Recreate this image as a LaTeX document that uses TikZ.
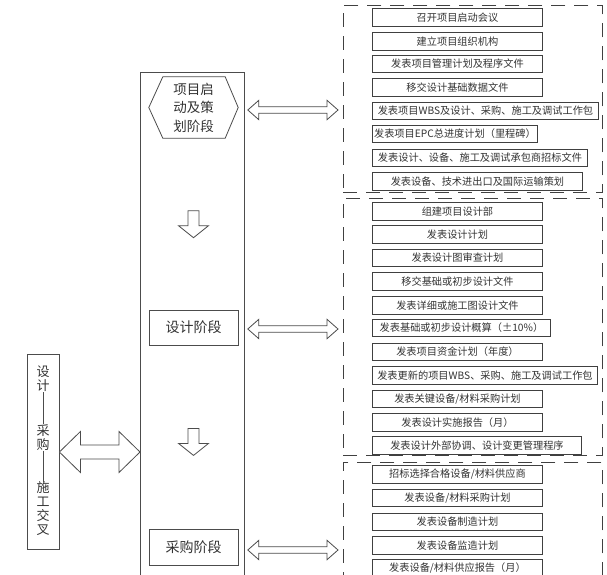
\documentclass[tikz,border=0pt]{standalone}
\usepackage{fontspec}
\newfontfamily\cjk{Noto Sans CJK SC}
\usetikzlibrary{calc}
\newcommand\hdbl[5]{\draw[hollow] let \p1=(#1), \p2=(#2) in
  (\x1,\y1) -- (\x1+#5,\y1+#3) -- (\x1+#5,\y1+#4) -- (\x2-#5,\y1+#4) -- (\x2-#5,\y1+#3) --
  (\x2,\y1) -- (\x2-#5,\y1-#3) -- (\x2-#5,\y1-#4) -- (\x1+#5,\y1-#4) -- (\x1+#5,\y1-#3) -- cycle;}
\newcommand\hdown[1]{\draw[hollow] let \p1=(#1) in
  (\x1-5.5pt,\y1) -- (\x1+5.5pt,\y1) -- (\x1+5.5pt,\y1-15pt) -- (\x1+15pt,\y1-15pt) --
  (\x1,\y1-27pt) -- (\x1-15pt,\y1-15pt) -- (\x1-5.5pt,\y1-15pt) -- cycle;}
\begin{document}
\begin{tikzpicture}[x=1pt,y=-1pt,
 item/.style={draw=black!75, line width=0.9pt, anchor=north west, inner sep=0pt,
   minimum height=17.5pt, font=\cjk\fontsize{10.2}{12}\selectfont, text=black!80},
 group/.style={draw=black!75, line width=0.9pt, dash pattern=on 14pt off 9pt,
   anchor=north west, inner sep=0pt, minimum width=259pt},
 stage/.style={draw=black!70, line width=0.8pt, minimum width=89pt, minimum height=35pt,
   inner sep=0pt, font=\cjk\fontsize{14}{16}\selectfont, text=black!80},
 hollow/.style={draw=black!70, line width=0.8pt, fill=white, line join=miter},
 vtext/.style={inner sep=0pt, align=center, font=\cjk\fontsize{13}{14}\selectfont, text=black!80}
]
\clip (0,0) rectangle (607,574);
\fill[white] (0,0) rectangle (607,574);

% main column
\node[draw=black!70, line width=0.8pt, anchor=north west, inner sep=0pt,
      minimum width=104pt, minimum height=620pt] (col) at (140,72) {};

% hexagon stage
\node[inner sep=0pt, minimum width=89pt, minimum height=61pt, align=center,
      font=\cjk\fontsize{13.5}{18.5}\selectfont, text=black!80] (hex) at (193.5,107.5)
      {项目启\\动及策\\划阶段};
\draw[draw=black!70, line width=0.8pt] (hex.west) -- ([xshift=14pt]hex.north west) --
  ([xshift=-13pt]hex.north east) -- (hex.east) -- ([xshift=-13pt]hex.south east) --
  ([xshift=14pt]hex.south west) -- cycle;

\node[stage] (design) at (193.5,327.5) {设计阶段};
\node[stage, minimum height=36pt] (proc) at (193.5,547) {采购阶段};

% dashed groups
\node[group, minimum height=187pt] (g1) at (343,5) {};
\node[group, minimum height=257.5pt] (g2) at (343,197.5) {};
\node[group, minimum height=200pt] (g3) at (343,462) {};

% group 1 items
\node[item, minimum width=170pt] (a1) at (372,8) {召开项目启动会议};
\node[item, minimum width=170pt] (a2) at (372,32) {建立项目组织机构};
\node[item, minimum width=170pt] (a3) at (372,54.5) {发表项目管理计划及程序文件};
\node[item, minimum width=170pt] (a4) at (372,78) {移交设计基础数据文件};
\node[item, minimum width=226pt] (a5) at (372,101.5) {发表项目WBS及设计、采购、施工及调试工作包};
\node[item, minimum width=165pt] (a6) at (372,124.5) {发表项目EPC总进度计划（里程碑）};
\node[item, minimum width=215pt] (a7) at (372,148.5) {发表设计、设备、施工及调试承包商招标文件};
\node[item, minimum width=210pt] (a8) at (372,172) {发表设备、技术进出口及国际运输策划};

% group 2 items
\node[item, minimum width=170pt] (b1) at (372,202) {组建项目设计部};
\node[item, minimum width=170pt] (b2) at (372,225) {发表设计计划};
\node[item, minimum width=170pt] (b3) at (372,248.5) {发表设计图审查计划};
\node[item, minimum width=170pt] (b4) at (372,272) {移交基础或初步设计文件};
\node[item, minimum width=170pt] (b5) at (372,296) {发表详细或施工图设计文件};
\node[item, minimum width=178pt] (b6) at (372,318.5) {发表基础或初步设计概算（±10\%）};
\node[item, minimum width=170pt] (b7) at (372,342.5) {发表项目资金计划（年度）};
\node[item, minimum width=225pt] (b8) at (372,366) {发表更新的项目WBS、采购、施工及调试工作包};
\node[item, minimum width=170pt] (b9) at (372,389.5) {发表关键设备/材料采购计划};
\node[item, minimum width=170pt] (b10) at (372,413) {发表设计实施报告（月）};
\node[item, minimum width=209pt] (b11) at (372,436) {发表设计外部协调、设计变更管理程序};

% group 3 items
\node[item, minimum width=170pt] (c1) at (372,465) {招标选择合格设备/材料供应商};
\node[item, minimum width=170pt] (c2) at (372,488.5) {发表设备/材料采购计划};
\node[item, minimum width=170pt] (c3) at (372,512.5) {发表设备制造计划};
\node[item, minimum width=170pt] (c4) at (372,536) {发表设备监造计划};
\node[item, minimum width=170pt] (c5) at (372,558.5) {发表设备/材料供应报告（月）};

% left box
\node[draw=black!70, line width=0.8pt, minimum width=32pt, minimum height=195pt, inner sep=0pt]
  (lb) at (43,451.5) {};
\node[vtext] (t1) at (43,379) {设\\计};
\node[vtext] (t2) at (43,437.5) {采\\购};
\node[vtext] (t3) at (43,509) {施\\工\\交\\叉};
\draw[black!70, line width=0.6pt] (t1.south) -- (t2.north);
\draw[black!70, line width=0.6pt] (t2.south) -- (t3.north);

% horizontal double arrows
\coordinate (h1l) at ($(col.east|-hex.center)+(3,2.5)$);
\coordinate (h1r) at ($(g1.west|-hex.center)+(-5,2.5)$);
\coordinate (h2l) at ($(col.east|-design.center)+(3,1.5)$);
\coordinate (h2r) at ($(g2.west|-design.center)+(-5,1.5)$);
\coordinate (h3l) at ($(col.east|-proc.center)+(3,3)$);
\coordinate (h3r) at ($(g3.west|-proc.center)+(-5,3)$);
\hdbl{h1l}{h1r}{9.7pt}{3.3pt}{11pt}
\hdbl{h2l}{h2r}{9.7pt}{3.3pt}{11pt}
\hdbl{h3l}{h3r}{9.7pt}{3.3pt}{11pt}

% big left double arrow
\coordinate (bl) at ($(lb.east)+(0,0.5)$);
\coordinate (br) at (col.west|-bl);
\hdbl{bl}{br}{20.5pt}{7pt}{21pt}

% down arrows
\coordinate (d1) at ($(hex.south)+(0,72.5)$);
\coordinate (d2) at ($(design.south)+(0,83)$);
\hdown{d1}
\hdown{d2}
\end{tikzpicture}
\end{document}
